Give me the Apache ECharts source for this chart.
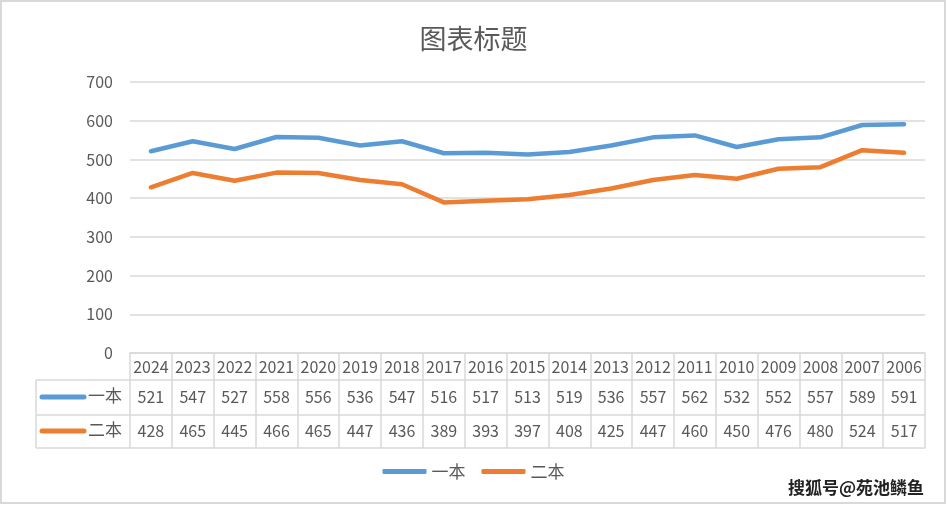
<!DOCTYPE html>
<html>
<head>
    <meta charset="utf-8">
    <title>图表标题</title>
    <script src="https://cdn.jsdelivr.net/npm/echarts@6/dist/echarts.min.js"></script>
    <style>
        html, body { margin: 0; padding: 0; background: #fff; }
        #main { width: 947px; height: 507px; }
    </style>
</head>
<body>
<div id="main"></div>
<script type="text/javascript">
    // 数据
    var years = ['2024','2023','2022','2021','2020','2019','2018','2017','2016','2015',
                 '2014','2013','2012','2011','2010','2009','2008','2007','2006'];
    var yiben = [521,547,527,558,556,536,547,516,517,513,519,536,557,562,532,552,557,589,591];
    var erben = [428,465,445,466,465,447,436,389,393,397,408,425,447,460,450,476,480,524,517];
    var seriesNames = ['一本', '二本'];
    var yTicks = [0, 100, 200, 300, 400, 500, 600, 700];

    var textColor = '#595959';
    var lineColor = '#d9d9d9';
    var font = '"Noto Sans CJK SC", "Noto Sans", sans-serif';
    var colors = ['#5B9BD5', '#ED7D31'];

    var myChart = echarts.init(document.getElementById('main'));

    // 表格中的一行 (用类别轴画)
    function tableAxis(data, offset, margin, showLabel) {
        return {
            type: 'category',
            position: 'bottom',
            offset: offset,
            data: data,
            boundaryGap: true,
            axisLine: { show: true, lineStyle: { color: lineColor, width: 1.5 } },
            axisTick: { show: false },
            axisLabel: {
                show: showLabel,
                interval: 0,
                margin: margin,
                color: textColor,
                fontSize: 16,
                fontFamily: font
            },
            splitLine: { show: false }
        };
    }

    var option = {
        animation: false,
        title: {
            text: '图表标题',
            left: 'center',
            top: 20,
            textStyle: { color: textColor, fontSize: 27, fontWeight: 'normal', fontFamily: font }
        },
        legend: {
            data: seriesNames,
            bottom: 22,
            left: 'center',
            icon: 'roundRect',
            itemWidth: 44,
            itemHeight: 5,
            itemGap: 16,
            textStyle: { color: textColor, fontSize: 17, fontFamily: font }
        },
        grid: { left: 130, right: 22, top: 82, bottom: 154, containLabel: false },
        xAxis: [
            {
                type: 'category',
                position: 'bottom',
                data: years,
                boundaryGap: true,
                axisLine: { show: true, lineStyle: { color: lineColor, width: 1.5 } },
                axisTick: { show: true, interval: 0, length: 95, lineStyle: { color: lineColor, width: 1.5 } },
                axisLabel: { interval: 0, margin: 6, color: textColor, fontSize: 16, fontFamily: font },
                splitLine: { show: false }
            },
            tableAxis(yiben.map(String), 27, 9, true),
            tableAxis(erben.map(String), 62, 8, true),
            tableAxis(years, 95, 8, false)
        ],
        yAxis: {
            type: 'value',
            min: yTicks[0],
            max: yTicks[yTicks.length - 1],
            interval: 100,
            axisLine: { show: false },
            axisTick: { show: false },
            axisLabel: { color: textColor, fontSize: 16, margin: 17, fontFamily: font },
            splitLine: { lineStyle: { color: lineColor, width: 1.5 } }
        },
        series: [
            {
                name: seriesNames[0],
                type: 'line',
                data: yiben,
                symbol: 'none',
                color: colors[0],
                lineStyle: { width: 4.5, color: colors[0], cap: 'round', join: 'round' }
            },
            {
                name: seriesNames[1],
                type: 'line',
                data: erben,
                symbol: 'none',
                color: colors[1],
                lineStyle: { width: 4.5, color: colors[1], cap: 'round', join: 'round' }
            }
        ],
        graphic: [
            // 外框
            { type: 'rect', shape: { x: 1, y: 1, width: 944, height: 502 },
              style: { fill: 'none', stroke: lineColor, lineWidth: 2 }, silent: true },
            // 表格左侧单元格
            { type: 'line', shape: { x1: 36, y1: 380, x2: 130, y2: 380 }, style: { stroke: lineColor, lineWidth: 1.5 } },
            { type: 'line', shape: { x1: 36, y1: 415, x2: 130, y2: 415 }, style: { stroke: lineColor, lineWidth: 1.5 } },
            { type: 'line', shape: { x1: 36, y1: 448, x2: 130, y2: 448 }, style: { stroke: lineColor, lineWidth: 1.5 } },
            { type: 'line', shape: { x1: 36, y1: 380, x2: 36, y2: 448 }, style: { stroke: lineColor, lineWidth: 1.5 } },
            { type: 'line', shape: { x1: 42, y1: 397, x2: 84, y2: 397 }, style: { stroke: colors[0], lineWidth: 5, lineCap: 'round' } },
            { type: 'line', shape: { x1: 42, y1: 431, x2: 84, y2: 431 }, style: { stroke: colors[1], lineWidth: 5, lineCap: 'round' } },
            { type: 'text', left: 88, top: 387, style: { text: seriesNames[0], fill: textColor, fontSize: 17, fontFamily: font } },
            { type: 'text', left: 88, top: 421, style: { text: seriesNames[1], fill: textColor, fontSize: 17, fontFamily: font } },
            // 水印
            { type: 'text', right: 22, top: 478, style: { text: '搜狐号@苑池鳞鱼', fill: '#222', fontSize: 17, fontWeight: 'bold',
              fontFamily: font, stroke: '#fff', lineWidth: 2 } }
        ]
    };

    myChart.setOption(option);
</script>
</body>
</html>
